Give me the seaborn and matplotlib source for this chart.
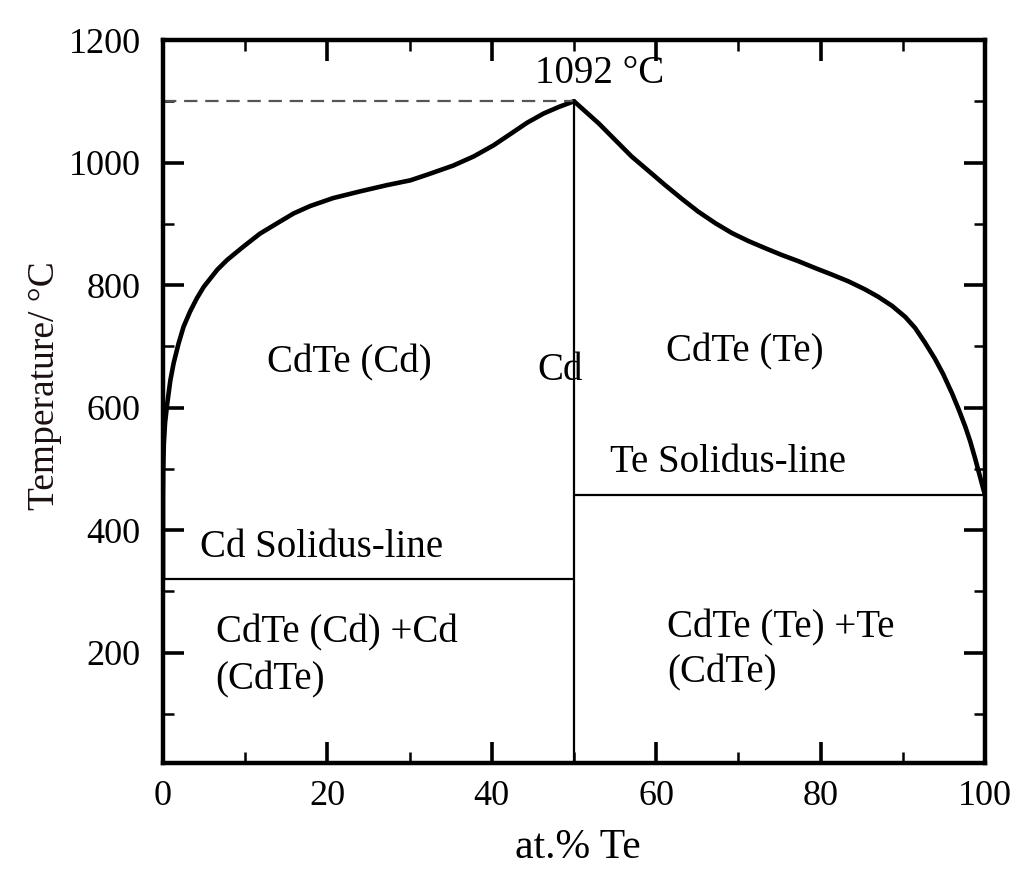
import numpy as np
import pandas as pd
import matplotlib
matplotlib.use("Agg")
import matplotlib.pyplot as plt
import seaborn as sns

# ---- data ----
left_x = [0.0, 0.0, 0.03, 0.1, 0.25, 0.5, 0.9, 1.3, 1.9, 2.5, 3.3, 4.1, 4.95, 6.6, 7.8, 9.8,
          11.8, 13.9, 15.9, 17.9, 20.7, 24.0, 27.2, 30.1, 32.1, 35.3, 37.8, 40.2, 42.2,
          44.3, 46.3, 48.2, 50.0]
left_T = [321, 450, 500, 540, 575, 605, 645, 673, 705, 732, 757, 778, 797, 825, 841, 863,
          884, 901, 917, 929, 942, 953, 963, 971, 980, 995, 1010, 1028, 1046,
          1065, 1080, 1091, 1100]
right_x = [50.0, 51.0, 53.0, 55.0, 57.0, 59.1, 61.1, 63.1, 65.1, 67.2, 69.2, 71.2, 73.3,
           75.3, 77.3, 79.3, 81.4, 83.4, 85.4, 87.0, 88.7, 90.3, 91.5, 92.7, 93.9, 94.9,
           96.0, 96.8, 97.6, 98.2, 98.8, 99.3, 100.0]
right_T = [1100, 1088, 1064, 1037, 1010, 986, 963, 941, 920, 901, 885, 872, 860,
           849, 839, 828, 817, 806, 793, 781, 766, 748, 730, 706, 680, 655,
           623, 597, 569, 545, 517, 492, 457]
peak_T = 1100
cd_solidus_T = 321
te_solidus_T = 457
x_ticks = [0, 20, 40, 60, 80, 100]
y_ticks = [200, 400, 600, 800, 1000, 1200]

sns.set_theme(style="ticks")
plt.rcParams['font.family'] = ['Liberation Serif', 'DejaVu Serif']

fig = plt.figure(figsize=(10.24, 8.9), dpi=100)
ax = fig.add_axes([163/1024, 1-763/890, (985-163)/1024, (763-40)/890])

df_left = pd.DataFrame({"x": left_x, "T": left_T})
df_right = pd.DataFrame({"x": right_x, "T": right_T})
for d in (df_left, df_right):
    sns.lineplot(data=d, x="x", y="T", sort=False, estimator=None, color="black",
                 lw=3.3, ax=ax, solid_joinstyle="round", solid_capstyle="round")

# dashed peak line, vertical compound line, solidus lines
ax.plot([0, 50], [peak_T, peak_T], color="#555555", lw=1.6, linestyle=(0, (6, 3.5)))
ax.plot([50, 50], [0, peak_T], color="black", lw=1.6)
ax.plot([0, 50], [cd_solidus_T, cd_solidus_T], color="black", lw=1.6)
ax.plot([50, 100], [te_solidus_T, te_solidus_T], color="black", lw=1.6)

ax.set_xlim(0, 100)
ax.set_ylim(20, 1200)
ax.set_xticks(x_ticks)
ax.set_xticks([10, 30, 50, 70, 90], minor=True)
ax.set_yticks(y_ticks)
ax.set_yticks([100, 300, 500, 700, 900, 1100], minor=True)

fs = 26
ax.tick_params(axis="both", which="major", direction="in", length=15, width=2.6,
               labelsize=fs, top=True, right=True, color="black", labelcolor="black")
ax.tick_params(axis="both", which="minor", direction="in", length=8, width=1.8,
               top=True, right=True, color="black")
ax.tick_params(axis="x", which="major", pad=12)
ax.tick_params(axis="y", which="major", pad=16)
for s in ax.spines.values():
    s.set_linewidth(3.2)
    s.set_color("black")

ax.set_xlabel("at.% Te", fontsize=30, color="black")
ax.set_ylabel("Temperature/ °C", fontsize=27, color="#1a1010")
ax.xaxis.set_label_coords((578-163)/(985-163), -(829-763)/723)
ax.yaxis.set_label_coords(-(163-62)/822, (763-386)/723)

tk = dict(fontsize=28, color="black")
ax.text(53.1, 1146, "1092 °C", ha="center", va="center", **tk)
ax.text(22.7, 673, "CdTe (Cd)", ha="center", va="center", **tk)
ax.text(48.3, 661, "Cd", ha="center", va="center", **tk)
ax.text(4.5, 372, "Cd Solidus-line", ha="left", va="center", **tk)
ax.text(6.4, 232, "CdTe (Cd) +Cd", ha="left", va="center", **tk)
ax.text(6.4, 155, "(CdTe)", ha="left", va="center", **tk)
ax.text(70.8, 691, "CdTe (Te)", ha="center", va="center", **tk)
ax.text(54.4, 511, "Te Solidus-line", ha="left", va="center", **tk)
ax.text(61.3, 240, "CdTe (Te) +Te", ha="left", va="center", **tk)
ax.text(61.3, 167, "(CdTe)", ha="left", va="center", **tk)

fig.savefig("out.png", dpi=100, facecolor="white")
